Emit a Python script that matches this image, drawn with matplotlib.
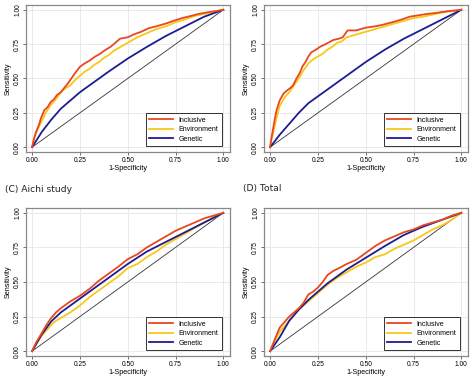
import matplotlib
matplotlib.use("Agg")
import matplotlib.pyplot as plt

plt.rcParams["font.family"] = ["Liberation Sans", "DejaVu Sans"]

series_names = ["Inclusive", "Environment", "Genetic"]
colors = ["#E8471F", "#F7C818", "#1C1E90"]

# Panel A
a_inc_x = [0, .01, .02, .035, .046, .064, .08, .098, .115, .13, .15, .167, .185, .2, .225, .25, .275, .30, .33, .356, .385, .41, .435, .46, .5, .53, .57, .61, .65, .70, .74, .785, .83, .87, .91, .957, 1]
a_inc_y = [0, .06, .11, .16, .21, .27, .29, .33, .35, .38, .40, .43, .46, .49, .54, .585, .61, .63, .66, .68, .71, .73, .76, .79, .80, .82, .84, .866, .88, .90, .92, .94, .955, .97, .98, .99, 1]
a_env_x = [0, .01, .03, .05, .075, .1, .125, .15, .175, .2, .225, .25, .275, .3, .325, .35, .375, .4, .425, .45, .5, .55, .6, .65, .7, .75, .8, .85, .9, .95, 1]
a_env_y = [0, .07, .13, .19, .26, .31, .35, .40, .43, .45, .49, .52, .55, .57, .60, .62, .65, .67, .70, .72, .76, .80, .83, .86, .88, .91, .93, .955, .97, .985, 1]
a_gen_x = [0, .05, .1, .15, .2, .25, .3, .4, .5, .6, .7, .8, .9, 1]
a_gen_y = [0, .11, .20, .28, .34, .40, .45, .55, .645, .73, .81, .88, .95, 1]

# Panel B
b_inc_x = [0, .005, .017, .025, .034, .05, .07, .086, .105, .12, .138, .155, .17, .185, .2, .215, .24, .26, .29, .33, .36, .38, .405, .45, .5, .55, .586, .64, .69, .73, .776, .82, .86, .93, 1]
b_inc_y = [0, .05, .146, .21, .27, .34, .39, .41, .43, .45, .50, .54, .59, .62, .66, .69, .71, .73, .75, .78, .79, .80, .85, .85, .87, .88, .89, .91, .93, .95, .96, .97, .976, .99, 1]
b_env_x = [0, .005, .02, .035, .05, .075, .1, .125, .15, .175, .2, .225, .25, .275, .3, .325, .35, .375, .4, .45, .5, .55, .6, .65, .7, .75, .8, .85, .9, .95, 1]
b_env_y = [0, .04, .13, .22, .30, .36, .40, .45, .50, .56, .61, .64, .66, .68, .71, .73, .76, .77, .80, .82, .84, .86, .88, .90, .92, .94, .95, .965, .98, .99, 1]
b_gen_x = [0, .05, .1, .15, .2, .3, .4, .5, .6, .7, .8, .9, 1]
b_gen_y = [0, .09, .17, .25, .32, .42, .52, .62, .71, .79, .86, .93, 1]

# Panel C
c_inc_x = [0, .02, .05, .075, .1, .125, .15, .2, .25, .3, .35, .4, .45, .5, .55, .6, .65, .7, .75, .8, .85, .9, .95, 1]
c_inc_y = [0, .06, .13, .19, .24, .28, .31, .36, .40, .45, .51, .56, .61, .665, .70, .75, .79, .83, .87, .90, .93, .96, .98, 1]
c_env_x = [0, .02, .05, .075, .1, .125, .15, .2, .25, .3, .35, .4, .45, .5, .55, .6, .65, .7, .75, .8, .85, .9, .95, 1]
c_env_y = [0, .05, .11, .15, .19, .22, .24, .28, .33, .39, .44, .49, .54, .60, .63, .68, .72, .77, .81, .85, .89, .93, .965, 1]
c_gen_x = [0, .05, .1, .15, .2, .25, .3, .4, .5, .6, .7, .8, .9, 1]
c_gen_y = [0, .12, .215, .28, .33, .38, .43, .53, .63, .72, .79, .86, .93, 1]

# Panel D
d_inc_x = [0, .02, .05, .075, .1, .125, .15, .175, .2, .225, .25, .275, .3, .33, .36, .4, .45, .5, .55, .6, .65, .7, .75, .8, .85, .9, .95, 1]
d_inc_y = [0, .07, .17, .21, .25, .28, .31, .35, .41, .43, .46, .50, .55, .58, .60, .63, .66, .71, .76, .80, .83, .86, .88, .91, .93, .95, .98, 1]
d_env_x = [0, .02, .05, .1, .15, .2, .25, .3, .35, .4, .45, .5, .55, .6, .65, .7, .75, .8, .85, .9, .95, 1]
d_env_y = [0, .06, .14, .22, .30, .36, .42, .48, .53, .57, .61, .64, .68, .70, .74, .77, .80, .84, .88, .91, .95, 1]
d_gen_x = [0, .05, .1, .15, .2, .3, .4, .5, .6, .7, .8, .9, 1]
d_gen_y = [0, .10, .22, .30, .37, .49, .59, .675, .76, .84, .90, .95, 1]

panels = [
    (None, [(a_inc_x, a_inc_y), (a_env_x, a_env_y), (a_gen_x, a_gen_y)]),
    (None, [(b_inc_x, b_inc_y), (b_env_x, b_env_y), (b_gen_x, b_gen_y)]),
    ("(C) Aichi study", [(c_inc_x, c_inc_y), (c_env_x, c_env_y), (c_gen_x, c_gen_y)]),
    ("(D) Total", [(d_inc_x, d_inc_y), (d_env_x, d_env_y), (d_gen_x, d_gen_y)]),
]

ticks = [0, .25, .5, .75, 1]
tick_labels = ["0.00", "0.25", "0.50", "0.75", "1.00"]

W, H = 474, 377
fig = plt.figure(figsize=(W / 100, H / 100), dpi=100)
fig.patch.set_facecolor("white")

# frame boxes in pixels: left, top, right, bottom
boxes = [(26, 5, 230, 152), (264, 5, 468, 152), (26, 208, 230, 356), (264, 208, 468, 356)]
title_pos = [None, None, (5, 189), (243, 189)]

for i, ((title, curves), box) in enumerate(zip(panels, boxes)):
    l, t, r, b = box
    ax = fig.add_axes([l / W, 1 - b / H, (r - l) / W, (b - t) / H])
    ax.set_xlim(-0.032, 1.035)
    ax.set_ylim(-0.035, 1.035)
    ax.grid(True, color="#e6e6e6", linewidth=0.6)
    ax.set_axisbelow(True)
    ax.plot([0, 1], [0, 1], color="#333333", linewidth=0.6, zorder=2)
    order = [1, 2, 0]
    lines = {}
    for k in order:
        xs, ys = curves[k]
        ln, = ax.plot(xs, ys, color=colors[k], linewidth=1.3, zorder=3 + (k == 0))
        lines[k] = ln
    leg = ax.legend([lines[0], lines[1], lines[2]], series_names, loc="lower right",
                    fontsize=5.0, frameon=True, fancybox=False, edgecolor="black",
                    borderpad=0.5, handlelength=3.4, handletextpad=0.8, labelspacing=0.35,
                    borderaxespad=0, bbox_to_anchor=(0.96, 0.04))
    leg.get_frame().set_linewidth(0.7)
    ax.set_xticks(ticks)
    ax.set_xticklabels(tick_labels)
    ax.set_yticks(ticks)
    ax.set_yticklabels(tick_labels, rotation=90, va="center")
    ax.tick_params(labelsize=4.8, length=2, width=0.6, color="#555555", pad=1.5)
    ax.set_xlabel("1-Specificity", fontsize=5.2, labelpad=1)
    ax.set_ylabel("Sensitivity", fontsize=5.2, labelpad=1.5)
    for sp in ax.spines.values():
        sp.set_color("#888888")
        sp.set_linewidth(0.9)
    if title:
        tx, ty = title_pos[i]
        fig.text(tx / W, 1 - ty / H, title, fontsize=6.6, va="center", ha="left",
                 color="#222222", family="DejaVu Sans")

fig.savefig("out.png", dpi=100)
